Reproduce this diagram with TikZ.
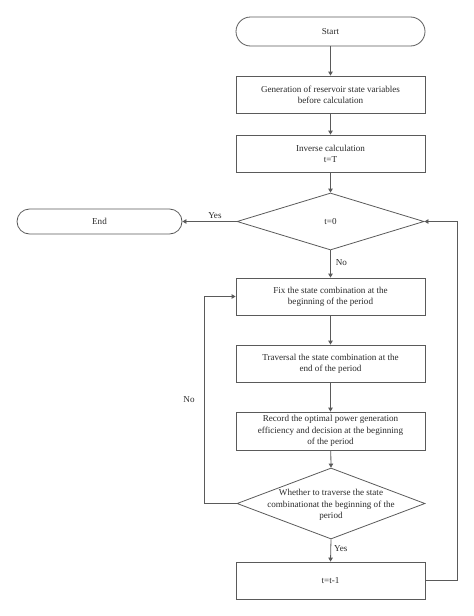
\documentclass[tikz,border=0pt]{standalone}
\usepackage{fontspec}
\setmainfont{Liberation Serif}
\usetikzlibrary{shapes.geometric,arrows.meta}
\definecolor{ln}{HTML}{5A5A5A}
\definecolor{tx}{HTML}{2A2A2A}
\tikzset{
  x=1pt,y=1pt,
  base/.style={draw=ln,line width=0.8pt,text=tx,font=\fontsize{9.1}{11.2}\selectfont,align=center,inner sep=0pt},
  term/.style={base,rectangle,rounded corners=#1},
  proc/.style={base,rectangle,minimum width=189pt,minimum height=37pt},
  dec/.style={base,diamond},
  txt/.style={text=tx,font=\fontsize{9.1}{11.2}\selectfont,align=center,inner sep=0pt},
  arr/.style={draw=ln,line width=0.8pt,-{Triangle[width=4.5pt,length=4pt]}},
}
\begin{document}
\begin{tikzpicture}
\useasboundingbox (0,0) rectangle (474,-616);
\node[term=14.5pt,minimum width=189pt,minimum height=29pt] (start) at (330.5,-31.5) {Start};
\node[proc] (b1) at (330.5,-94.5) {Generation of reservoir state variables\\before calculation};
\node[proc] (b2) at (330.5,-153.5) {Inverse calculation\\t=T};
\node[dec,minimum width=187pt,minimum height=57pt] (d1) at (330.5,-221.5) {t=0};
\node[term=12.5pt,minimum width=165pt,minimum height=25pt] (end) at (99.5,-221.5) {End};
\node[proc] (b3) at (330.5,-296.5) {Fix the state combination at the\\beginning of the period};
\node[proc] (b4) at (330.5,-363.5) {Traversal the state combination at the\\end of the period};
\node[proc,minimum height=38pt] (b5) at (330.5,-431) {Record the optimal power generation\\efficiency and decision at the beginning\\of the period};
\node[dec,minimum width=188pt,minimum height=71pt] (d2) at (331,-503.5) {};
\node[txt] (d2t) at (331,-505) {Whether to traverse the state\\combinationat the beginning of the\\period};
\node[proc] (b6) at (330.5,-580.5) {t=t-1};
\coordinate (lft) at (204,-503.5);
\coordinate (rgt) at (457,-580.5);

\draw[arr] (start) -- (b1);
\draw[arr] (b1) -- (b2);
\draw[arr] (b2) -- (d1);
\draw[arr] (d1.west) -- node[txt,above=3pt,pos=0.4] {Yes} (end.east);
\draw[arr] (d1.south) -- node[txt,right=5pt,pos=0.45] {No} (b3.north);
\draw[arr] (b3) -- (b4);
\draw[arr] (b4) -- (b5);
\draw[arr] (b5) -- (d2.north);
\draw[arr] (d2.south) -- node[txt,right=3pt,pos=0.4] {Yes} (b6.north);
\draw[arr] (d2.west) -- (lft) |- node[txt,pos=0.252,left=9pt] {No} (b3.west);
\draw[arr] (b6.east) -- (rgt) |- (d1.east);
\end{tikzpicture}
\end{document}
